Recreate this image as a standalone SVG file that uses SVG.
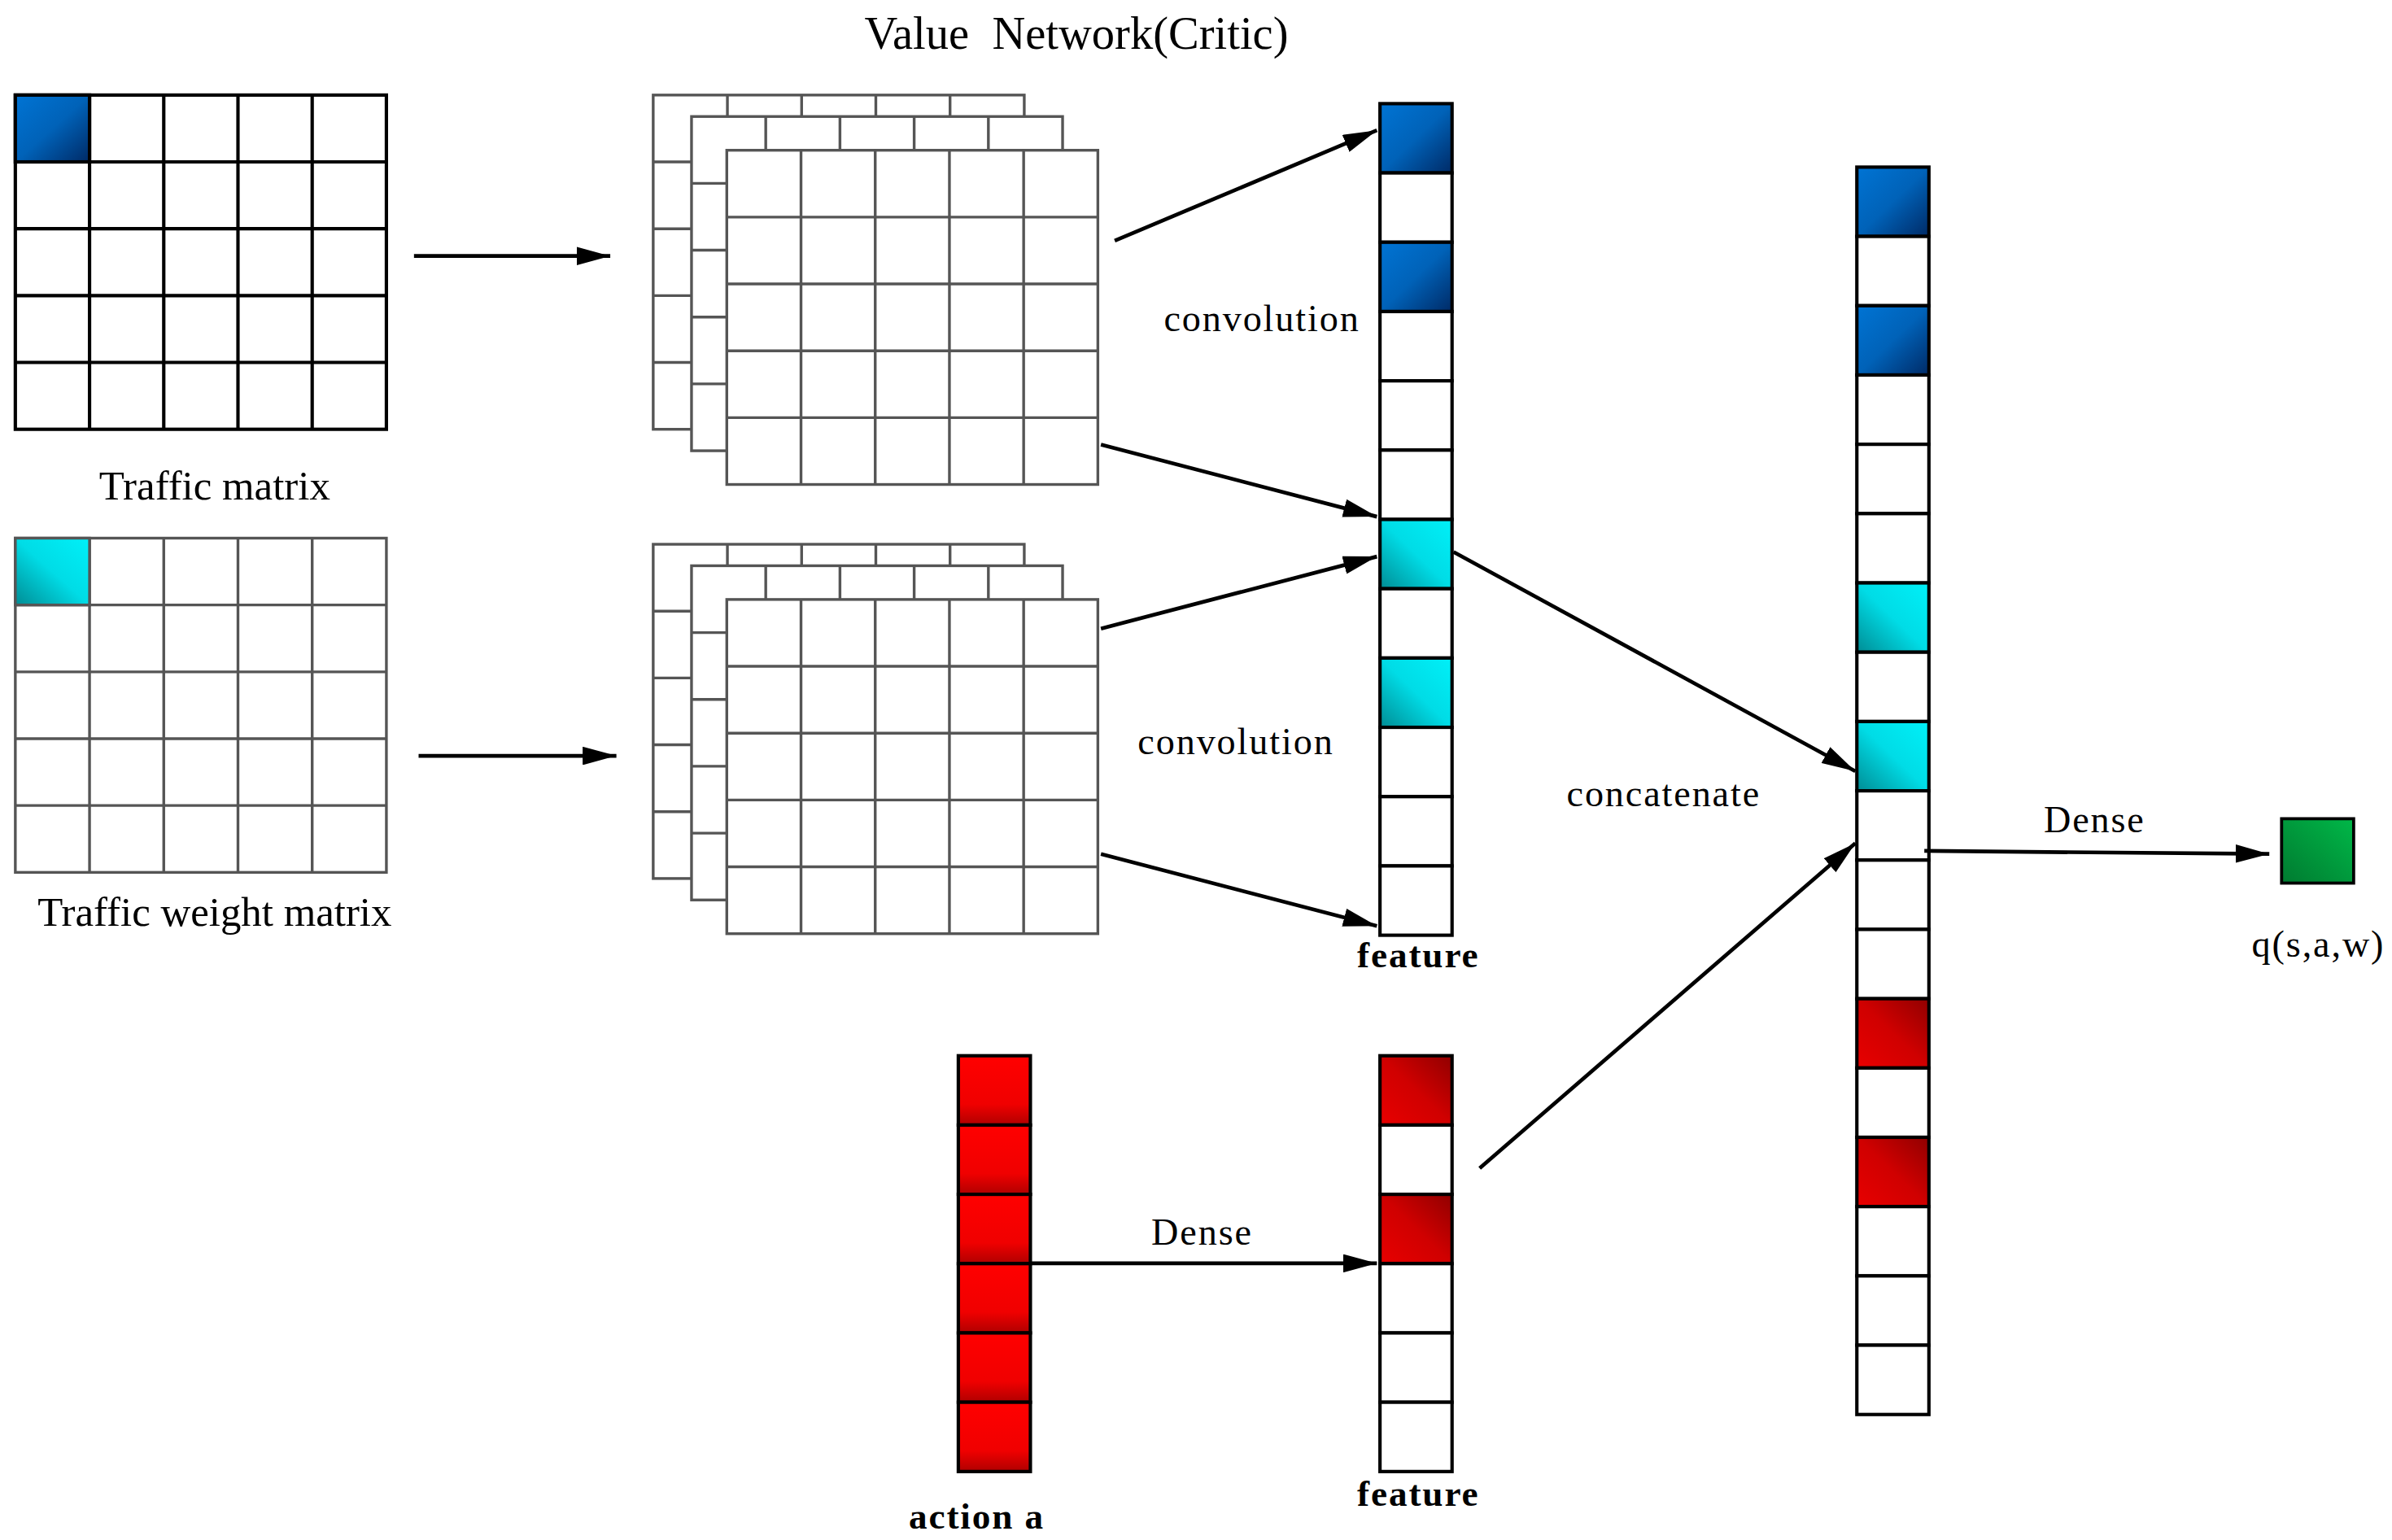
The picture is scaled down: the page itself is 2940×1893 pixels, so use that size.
<svg xmlns="http://www.w3.org/2000/svg" xmlns:xlink="http://www.w3.org/1999/xlink" width="2940" height="1893" viewBox="0 0 2940 1893">
<style>
text{font-family:"Liberation Serif","Times New Roman",serif;fill:#000;text-anchor:middle}
.h{font-size:30px}
.t{font-size:27px}
.w{font-size:24.5px;letter-spacing:1px}
.b{font-size:24px;font-weight:bold;letter-spacing:1px}
.k{stroke:#000;stroke-width:2.2}
.g{stroke:#555;stroke-width:1.8}
.cw{fill:#fff;stroke:#000;stroke-width:2.2}
.cb{fill:url(#gb);stroke:#000;stroke-width:2.2}
.cc{fill:url(#gc);stroke:#000;stroke-width:2.2}
.cr{fill:url(#gr);stroke:#000;stroke-width:2.2}
.ca{fill:url(#ga);stroke:#000;stroke-width:2.2}
.ar{stroke:#000;stroke-width:2.5;fill:none;marker-end:url(#ah)}
</style>
<defs>
<linearGradient id="gb" x1="0" y1="0" x2="1" y2="1"><stop offset="0" stop-color="#0074d4"/><stop offset="0.5" stop-color="#0062b8"/><stop offset="1" stop-color="#002a66"/></linearGradient>
<linearGradient id="gc" x1="1" y1="0" x2="0" y2="1"><stop offset="0" stop-color="#00f0f8"/><stop offset="0.5" stop-color="#00dce6"/><stop offset="1" stop-color="#008c94"/></linearGradient>
<linearGradient id="gr" x1="0" y1="1" x2="1" y2="0"><stop offset="0" stop-color="#e80000"/><stop offset="0.5" stop-color="#d00000"/><stop offset="1" stop-color="#900000"/></linearGradient>
<linearGradient id="ga" x1="0" y1="0" x2="0" y2="1"><stop offset="0" stop-color="#ff0000"/><stop offset="0.7" stop-color="#f00000"/><stop offset="1" stop-color="#b00000"/></linearGradient>
<linearGradient id="gg" x1="1" y1="0" x2="0" y2="1"><stop offset="0" stop-color="#00b848"/><stop offset="1" stop-color="#007a30"/></linearGradient>
<g id="grid"><rect x="0" y="0" width="242" height="218" fill="#fff"/><path fill="none" d="M48.4 0V218M96.8 0V218M145.2 0V218M193.6 0V218M0 43.6H242M0 87.2H242M0 130.8H242M0 174.4H242"/></g>
<rect id="c" width="47" height="45.2"/>
<marker id="ah" viewBox="0 0 22 12" refX="22" refY="6" markerWidth="22" markerHeight="12" markerUnits="userSpaceOnUse" orient="auto"><path d="M0 0L22 6L0 12z" fill="#000"/></marker>
</defs>
<g transform="scale(1.8846)">
<text class="h" x="702" y="32" xml:space="preserve">Value  Network(Critic)</text>
<g id="traffic-matrix">
<use href="#grid" x="10" y="62" class="k"/>
<rect x="10" y="62" width="48.4" height="43.6" fill="url(#gb)" class="k"/>
<text class="t" x="140" y="326">Traffic matrix</text>
</g>
<g id="traffic-weight-matrix">
<use href="#grid" x="10" y="351" class="g"/>
<rect x="10" y="351" width="48.4" height="43.6" fill="url(#gc)" class="g"/>
<text class="t" x="140" y="604">Traffic weight matrix</text>
</g>
<g id="conv-stack-1">
<use href="#grid" x="426" y="62" class="g"/>
<use href="#grid" x="451" y="76" class="g"/>
<use href="#grid" x="474" y="98" class="g"/>
</g>
<g id="conv-stack-2">
<use href="#grid" x="426" y="355" class="g"/>
<use href="#grid" x="451" y="369" class="g"/>
<use href="#grid" x="474" y="391" class="g"/>
</g>
<g id="feature-1">
<use href="#c" x="900" y="67.6" class="cb"/>
<use href="#c" x="900" y="112.8" class="cw"/>
<use href="#c" x="900" y="158" class="cb"/>
<use href="#c" x="900" y="203.2" class="cw"/>
<use href="#c" x="900" y="248.4" class="cw"/>
<use href="#c" x="900" y="293.6" class="cw"/>
<use href="#c" x="900" y="338.8" class="cc"/>
<use href="#c" x="900" y="384" class="cw"/>
<use href="#c" x="900" y="429.2" class="cc"/>
<use href="#c" x="900" y="474.4" class="cw"/>
<use href="#c" x="900" y="519.6" class="cw"/>
<use href="#c" x="900" y="564.8" class="cw"/>
<text class="b" x="925" y="631">feature</text>
</g>
<g id="action-a">
<use href="#c" x="625" y="688.6" class="ca"/>
<use href="#c" x="625" y="733.8" class="ca"/>
<use href="#c" x="625" y="779" class="ca"/>
<use href="#c" x="625" y="824.2" class="ca"/>
<use href="#c" x="625" y="869.4" class="ca"/>
<use href="#c" x="625" y="914.6" class="ca"/>
<text class="b" x="637" y="997">action a</text>
</g>
<g id="feature-2">
<use href="#c" x="900" y="688.6" class="cr"/>
<use href="#c" x="900" y="733.8" class="cw"/>
<use href="#c" x="900" y="779" class="cr"/>
<use href="#c" x="900" y="824.2" class="cw"/>
<use href="#c" x="900" y="869.4" class="cw"/>
<use href="#c" x="900" y="914.6" class="cw"/>
<text class="b" x="925" y="982">feature</text>
</g>
<g id="concat">
<use href="#c" x="1211" y="109" class="cb"/>
<use href="#c" x="1211" y="154.2" class="cw"/>
<use href="#c" x="1211" y="199.4" class="cb"/>
<use href="#c" x="1211" y="244.6" class="cw"/>
<use href="#c" x="1211" y="289.8" class="cw"/>
<use href="#c" x="1211" y="335" class="cw"/>
<use href="#c" x="1211" y="380.2" class="cc"/>
<use href="#c" x="1211" y="425.4" class="cw"/>
<use href="#c" x="1211" y="470.6" class="cc"/>
<use href="#c" x="1211" y="515.8" class="cw"/>
<use href="#c" x="1211" y="561" class="cw"/>
<use href="#c" x="1211" y="606.2" class="cw"/>
<use href="#c" x="1211" y="651.4" class="cr"/>
<use href="#c" x="1211" y="696.6" class="cw"/>
<use href="#c" x="1211" y="741.8" class="cr"/>
<use href="#c" x="1211" y="787" class="cw"/>
<use href="#c" x="1211" y="832.2" class="cw"/>
<use href="#c" x="1211" y="877.4" class="cw"/>
</g>
<g id="output">
<rect x="1488" y="534" width="47" height="42" fill="url(#gg)" stroke="#000" stroke-width="2"/>
<text class="w" x="1512" y="624">q(s,a,w)</text>
</g>
<g id="connectors">
<path class="ar" d="M270 167H398"/>
<path class="ar" d="M273 493H402"/>
<path class="ar" d="M727 157L898 85"/>
<path class="ar" d="M718 290L898 337"/>
<path class="ar" d="M718 410L898 363"/>
<path class="ar" d="M718 557L898 604"/>
<path class="ar" d="M672 824H898"/>
<path class="ar" d="M948 360L1210 503"/>
<path class="ar" d="M965 762L1210 550"/>
<path class="ar" d="M1255 555L1480 557"/>
</g>
<g id="labels">
<text class="w" x="823" y="216">convolution</text>
<text class="w" x="806" y="492">convolution</text>
<text class="w" x="784" y="812">Dense</text>
<text class="w" x="1085" y="526">concatenate</text>
<text class="w" x="1366" y="543">Dense</text>
</g>
</g>
</svg>
